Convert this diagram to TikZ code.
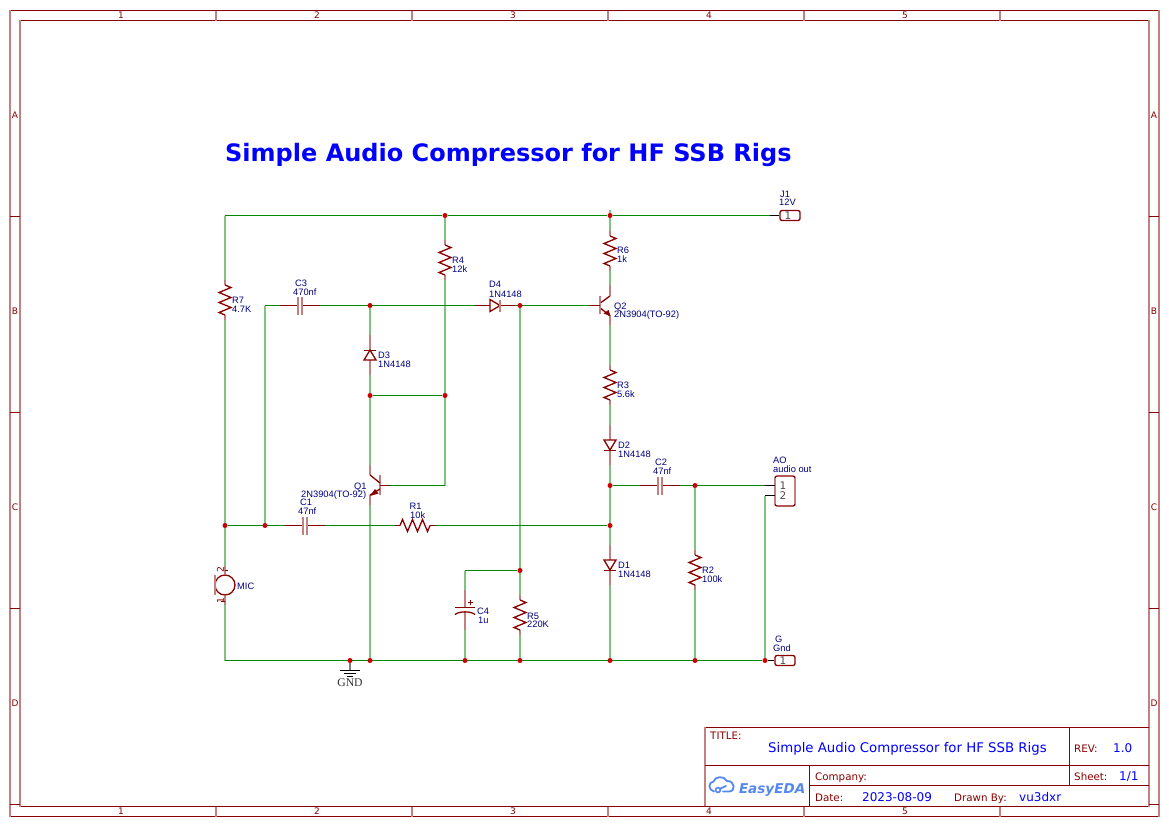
\documentclass[tikz,border=0pt]{standalone}
\usepackage{fontspec}
\setmainfont{Liberation Sans}
\newfontfamily\dejavu{DejaVu Sans}
\newfontfamily\dejabold{DejaVu Sans Bold}
\newfontfamily\gndfont{Liberation Serif}
\usetikzlibrary{positioning, calc}
\definecolor{wirecol}{HTML}{008800}
\definecolor{partcol}{HTML}{880000}
\definecolor{dotcol}{HTML}{CC0000}
\definecolor{lblcol}{HTML}{000080}
\definecolor{logocol}{HTML}{5588EE}
\pgfdeclarelayer{wires}
\pgfsetlayers{wires,main}
\tikzset{
  part/.style={draw=partcol},
  zig/.style={draw=partcol, line width=1.3pt},
  vpart/.style={draw=partcol!50, line width=2pt},
  wire/.style={draw=wirecol},
  vwire/.style={draw=wirecol!50, line width=2pt},
  plead/.style={vpart},
  pbar/.style={part},
  horiz/.style={rotate=90, plead/.style={part}, pbar/.style={vpart}},
  resv/.pic={
    \coordinate (-a) at (0,-20); \coordinate (-b) at (0,20);
    \draw[plead] (-a) -- (0,-15); \draw[plead] (0,15) -- (-b);
    \draw[zig] (0,-15) -- (6,-12.5) -- (-6,-7.5) -- (6,-2.5) -- (-6,2.5) -- (6,7.5) -- (-6,12.5) -- (0,15);
  },
  diode/.pic={
    \coordinate (-a) at (0,-20); \coordinate (-b) at (0,20);
    \draw[plead] (-a) -- (0,-5); \draw[plead] (0,5) -- (-b);
    \draw[zig] (-6,-5) -- (6,-5) -- (0,5) -- cycle;
    \draw[pbar] (-6,5) -- (6,5);
  },
  capac/.pic={
    \coordinate (-a) at (0,-20); \coordinate (-b) at (0,20);
    \draw[plead] (-a) -- (0,-2); \draw[plead] (0,2) -- (-b);
    \draw[pbar] (-9,-2) -- (9,-2); \draw[pbar] (-9,2) -- (9,2);
  }
}
\begin{document}
\begin{tikzpicture}[x=1pt, y=-1pt, line width=1pt]
\tikzstyle{pinlead}=[draw=black]
\tikzstyle{junction}=[circle, fill=dotcol, inner sep=0pt, minimum size=5pt]
\tikzstyle{lbl}=[anchor=base west, inner sep=0pt, text=lblcol, font=\fontsize{9.3}{10}\selectfont]
\tikzstyle{sheettxt}=[anchor=base west, inner sep=0pt, text=partcol, font=\dejavu\fontsize{10.3}{11}\selectfont]
\tikzstyle{bluetxt}=[anchor=base west, inner sep=0pt, text=blue, font=\dejavu\fontsize{12}{13}\selectfont]
\tikzstyle{gridtxt}=[anchor=base, inner sep=0pt, text=partcol, font=\dejavu\fontsize{9}{10}\selectfont]
\tikzstyle{pinnum}=[inner sep=0pt, text=black!70, font=\dejavu\fontsize{10.5}{11}\selectfont]
\tikzstyle{pinbox}=[draw=partcol, line width=1.3pt, rounded corners=2pt, inner sep=0pt, minimum width=20pt, minimum height=10pt]
\useasboundingbox (0,0) rectangle (1169,827);
\begin{pgfonlayer}{wires}
\fill[white] (0,0) rectangle (1169,827);
\end{pgfonlayer}
% sheet frame
\draw[part] (10,10.5) -- (1159,10.5) (10,816.5) -- (1159,816.5);
\draw[part] (20,20.5) -- (1149,20.5) (20,806.5) -- (1149,806.5);
\draw[vpart] (10,10) -- (10,817) (1159,10) -- (1159,817);
\draw[vpart] (20,20) -- (20,807) (1149,20) -- (1149,807);
\foreach \x in {216,412,608,804,1000} {
  \draw[vpart] (\x,10.5) -- (\x,20.5);
  \draw[vpart] (\x,806.5) -- (\x,816.5);
}
\foreach \y in {216.5,412.5,608.5,804.5} {
  \draw[part] (10,\y) -- (20,\y);
  \draw[part] (1149,\y) -- (1159,\y);
}
\foreach \n/\x in {1/121,2/317,3/513,4/709,5/905} {
  \node[gridtxt] (top\n) at (\x,18.5) {\n};
  \node[gridtxt] (bot\n) at (\x,814.5) {\n};
}
\foreach \n/\y in {A/118,B/314,C/510,D/706} {
  \node[gridtxt] (lft\n) at (15,\y) {\n};
  \node[gridtxt] (rgt\n) at (1154,\y) {\n};
}
% title block
\draw[part] (705,727.5) -- (1149,727.5);
\draw[vpart] (705,727) -- (705,806);
\draw[part] (705,765.5) -- (1149,765.5);
\draw[part] (809,785.5) -- (1149,785.5);
\draw[part] (1069.5,727.5) -- (1069.5,785.5);
\draw[part] (809.5,765.5) -- (809.5,806.5);
\node[sheettxt] (ttitle) at (710,739) {TITLE:};
\node[bluetxt, font=\dejavu\fontsize{13.3}{14}\selectfont] (tname) at (768,752) {Simple Audio Compressor for HF SSB Rigs};
\node[sheettxt] (trev) at (1074,752.5) {REV:};
\node[bluetxt] (trevv) at (1113,752.5) {1.0};
\node[sheettxt] (tcomp) at (815,780) {Company:};
\node[sheettxt] (tsheet) at (1074,780.5) {Sheet:};
\node[bluetxt] (tsheetv) at (1119,780.5) {1/1};
\node[sheettxt] (tdate) at (815,801.5) {Date:};
\node[bluetxt] (tdatev) at (862,801.5) {2023-08-09};
\node[sheettxt] (tdrawn) at (954,801.5) {Drawn By:};
\node[bluetxt] (tdrawnv) at (1019,801.5) {vu3dxr};
% logo
\draw[logocol, line width=1.8pt, line cap=round, line join=round]
  (714,791.5) .. controls (708,790) and (708,782) .. (713.5,781.5)
  .. controls (715,776) and (724,775.5) .. (727,781)
  .. controls (735,780.5) and (736,791.5) .. (729,791.5) -- (723,791.5)
  (720.5,788.5) -- (726,786);
\draw[logocol, line width=1.6pt] (718,790) circle (2.4);
\node[anchor=base west, inner sep=0pt, text=logocol, font=\dejabold\fontsize{13.5}{14}\selectfont\addfontfeature{FakeSlant=0.2}] (tlogo) at (738,793) {EasyEDA};
% heading
\node[anchor=base west, inner sep=0pt, text=blue, font=\dejabold\fontsize{24}{26}\selectfont] (heading) at (225,161) {Simple Audio Compressor for HF SSB Rigs};
% parts
\pic (R7) at (225,300) {resv};
\pic (R4) at (445,260) {resv};
\pic (R6) at (610,251) {resv};
\pic (R3) at (610,385) {resv};
\pic (R2) at (695,570) {resv};
\pic (R5) at (520,615) {resv};
\pic[horiz] (R1) at (415,525.5) {resv};
\pic[horiz] (C3) at (300,305.5) {capac};
\pic[horiz] (C1) at (305,525.5) {capac};
\pic[horiz] (C2) at (660,485.5) {capac};
\pic[horiz] (D4) at (495,305.5) {diode};
\pic[rotate=180] (D3) at (370,355) {diode};
\pic (D2) at (610,445) {diode};
\pic (D1) at (610,565) {diode};
% C4
\coordinate (C4a) at (465,590);
\coordinate (C4b) at (465,630);
\draw[vpart] (C4a) -- (465,607);
\draw[vpart] (465,611) -- (C4b);
\draw[part] (455,607) -- (475,607);
\draw[zig] (455,614.5) .. controls (459,611) and (471,611) .. (475,614.5);
\draw[part] (467.5,602.5) -- (472.5,602.5) (470,600) -- (470,605);
% Q1
\coordinate (Q1c) at (370,465);
\coordinate (Q1e) at (370,505);
\coordinate (Q1b) at (390,485.5);
\draw[vpart] (380,475) -- (380,495);
\draw[part] (380,485.5) -- (Q1b);
\draw[vpart] (Q1c) -- (370,475);
\draw[zig] (370,475) -- (380,483);
\draw[zig] (380,489) -- (370,495);
\draw[vpart] (370,495) -- (Q1e);
\fill[partcol] (370,496) -- (375,489) -- (378.5,493.5) -- cycle;
% Q2
\coordinate (Q2c) at (610,285);
\coordinate (Q2e) at (610,325);
\coordinate (Q2b) at (590,305.5);
\draw[vpart] (600,296) -- (600,314);
\draw[part] (600,305.5) -- (Q2b);
\draw[vpart] (Q2c) -- (610,296);
\draw[zig] (610,296) -- (601,302.5);
\draw[zig] (601,308.5) -- (610,316);
\draw[vpart] (610,316) -- (Q2e);
\fill[partcol] (610.5,316) -- (603.5,313.5) -- (608.5,310) -- cycle;
% MIC
\node[circle, draw=partcol, line width=1.3pt, inner sep=0pt, minimum size=20pt] (MIC) at (225,585) {};
\coordinate (MICa) at (225,566);
\coordinate (MICb) at (225,605);
\draw[vpart] (MICa) -- (MIC.north);
\draw[vpart] (MIC.south) -- (MICb);
\draw[vpart] (215,575) -- (215,595);
\draw[part] (225,570.5) -- (228,570.5) (221,601.5) -- (225,601.5);
\node[pinnum, text=partcol, font=\dejavu\fontsize{9.3}{10}\selectfont, rotate=90] (MICp2) at (220.5,569.5) {2};
\node[pinnum, text=partcol, font=\dejavu\fontsize{9.3}{10}\selectfont, rotate=90] (MICp1) at (220.5,601) {1};
% connectors on the right
\node[pinbox] (J1) at (790,215.5) {};
\node[pinbox] (G) at (785,660.5) {};
\node[pinbox, minimum height=30pt] (AO) at (785,491) {};
\draw[vpart] (775,478) -- (775,504) (795,478) -- (795,504);
\node[pinnum] (J1p) at (788,215.5) {1};
\node[pinnum] (Gp) at (783,660.5) {1};
\node[pinnum] (AOp1) at (783,485.5) {1};
\node[pinnum] (AOp2) at (783,495.5) {2};
\coordinate (J1l) at (770,215.5);
\coordinate (AOl1) at (765,485.5);
\coordinate (AOl2) at (765,495.5);
\draw[pinlead] (J1l) -- (J1.west);
\draw[pinlead] (AOl1) -- (775,485.5);
\draw[pinlead] (AOl2) -- (775,495.5);
% junctions
\foreach \n/\x/\y in {j445t/445/215.5, j610t/610/215.5, j370a/370/305.5, j520a/520/305.5,
  j370b/370/395.5, j445b/445/395.5, j610c/610/485.5, j695c/695/485.5, j225m/225/525.5,
  j265m/265/525.5, j610m/610/525.5, j520d/520/570.5, jgnd/350/660.5, j370g/370/660.5,
  j465g/465/660.5, j520g/520/660.5, j610g/610/660.5, j695g/695/660.5, j765g/765/660.5}
  \node[junction] (\n) at (\x,\y) {};
\coordinate (tl) at (225,215.5);
\coordinate (cl) at (265,305.5);
\coordinate (bl) at (225,660.5);
\coordinate (q1k) at (445,485.5);
\coordinate (c4t) at (465,570.5);
\coordinate (stub) at (610,210);
% wires
\begin{pgfonlayer}{wires}
\draw[vwire] (R7-a) -- (tl);
\draw[wire] (tl) -- (j445t) -- (j610t) -- (J1l);
\draw[vwire] (stub) -- (R6-a);
\draw[vwire] (R6-b) -- (Q2c);
\draw[vwire] (Q2e) -- (R3-a);
\draw[vwire] (R3-b) -- (D2-a);
\draw[vwire] (D2-b) -- (D1-a);
\draw[vwire] (D1-b) -- (j610g);
\draw[vwire] (j445t) -- (R4-a);
\draw[vwire] (R4-b) -- (q1k);
\draw[wire] (q1k) -- (Q1b);
\draw[wire] (cl) -- (C3-a);
\draw[vwire] (cl) -- (j265m);
\draw[wire] (C3-b) -- (D4-a);
\draw[wire] (D4-b) -- (Q2b);
\draw[vwire] (j370a) -- (D3-b);
\draw[vwire] (D3-a) -- (j370b) -- (Q1c);
\draw[wire] (j370b) -- (j445b);
\draw[vwire] (Q1e) -- (j370g);
\draw[vwire] (j520a) -- (R5-a);
\draw[vwire] (R5-b) -- (j520g);
\draw[vwire] (R7-b) -- (MICa);
\draw[vwire] (MICb) -- (bl);
\draw[wire] (bl) -- (j765g);
\draw[wire] (j225m) -- (C1-a);
\draw[wire] (C1-b) -- (R1-a);
\draw[wire] (R1-b) -- (j610m);
\draw[wire] (j610c) -- (C2-a);
\draw[wire] (C2-b) -- (AOl1);
\draw[vwire] (j695c) -- (R2-a);
\draw[vwire] (R2-b) -- (j695g);
\draw[vwire] (AOl2) -- (j765g);
\draw[wire] (c4t) -- (j520d);
\draw[vwire] (c4t) -- (C4a);
\draw[vwire] (C4b) -- (j465g);
\end{pgfonlayer}
\draw[pinlead] (j765g) -- (G.west);
% ground
\coordinate (gtop) at (350,670);
\draw[draw=black!50, line width=2pt] (jgnd) -- (gtop);
\draw[draw=black] (340,670.5) -- (360,670.5);
\draw[draw=black] (344,673.5) -- (356,673.5);
\draw[draw=black] (347,676.5) -- (353,676.5);
\node[anchor=base, inner sep=0pt, text=black!80, font=\gndfont\fontsize{11.7}{12}\selectfont] (gndt) at (350,686.5) {GND};
% labels
\foreach \n/\x/\y/\t in {R7n/232/303/R7, R7v/232/312/4.7K, C3n/295/286/C3, C3v/293/295/470nf,
  R4n/452/263/R4, R4v/452/272/12k, D4n/489/287/D4, D4v/489/296.5/1N4148,
  D3n/378/358/D3, D3v/378/367/1N4148, Q1n/354/488.5/Q1, Q1v/301/497/2N3904(TO-92),
  C1n/300/505/C1, C1v/298/514/47nf, R1n/409.5/509/R1, R1v/410/518/10k,
  C4n/477/614/C4, C4v/478/623/1u, R5n/527/618.5/R5, R5v/527/627/220K,
  R6n/617/253/R6, R6v/617/262/1k, Q2n/614/308.5/Q2, Q2v/614/317/2N3904(TO-92),
  R3n/617/388/R3, R3v/617/397/5.6k, D2n/618/448/D2, D2v/618/457/1N4148,
  C2n/655/465/C2, C2v/653/474/47nf, D1n/618/568/D1, D1v/618/577/1N4148,
  R2n/702/573/R2, R2v/702/582/100k, J1n/780/197/J1, J1v/779/205/12V,
  AOn/773/463/AO, AOv/773/472/audio out, Gn/775/642/G, Gv/773/651/Gnd, MICn/237/588.5/MIC}
  \node[lbl] (\n) at (\x,\y+.6) {\t};
\end{tikzpicture}
\end{document}
